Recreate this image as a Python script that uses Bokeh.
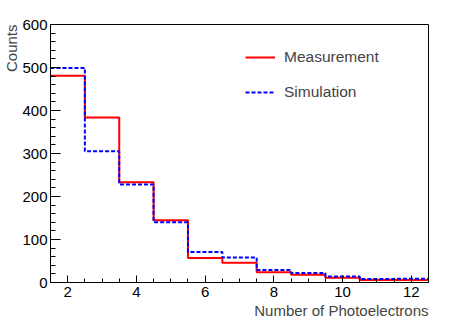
from bokeh.plotting import figure
from bokeh.models import (SingleIntervalTicker, Range1d, Legend, LegendItem, Title)
from bokeh.embed import file_html
from bokeh.resources import INLINE

# Data: number of photoelectrons (bin centres) and counts
n_pe = [2, 3, 4, 5, 6, 7, 8, 9, 10, 11, 12]
measurement = [481, 384, 233, 145, 57, 46, 24, 18, 11, 6, 6]
simulation = [499, 305, 228, 140, 71, 58, 29, 22, 14, 8, 9]

x_ticks_major = 2
y_ticks_major = 100

FONT = "Liberation Sans"

p = figure(width=474, height=322, output_backend="svg", toolbar_location=None,
           x_range=Range1d(1.5, 12.5), y_range=Range1d(0, 600),
           min_border_left=48, min_border_right=46, min_border_top=24,
           min_border_bottom=40, title=None)

p.xgrid.visible = False
p.ygrid.visible = False
p.outline_line_color = "black"
p.outline_line_width = 1
p.background_fill_color = "white"
p.border_fill_color = "white"

# histogram edges derived from bin centres
edges = [c - 0.5 for c in n_pe] + [n_pe[-1] + 0.5]
meas_y = measurement + [measurement[-1]]
sim_y = simulation + [simulation[-1]]

r_meas = p.step(edges, meas_y, mode="after", line_color="#ff0000", line_width=2)
r_sim = p.step(edges, sim_y, mode="after", line_color="#0000ff", line_width=2,
               line_dash="4 2")

# axes styling (ROOT-like ticks inside the frame)
p.xaxis.ticker = SingleIntervalTicker(interval=x_ticks_major, num_minor_ticks=4)
p.yaxis.ticker = SingleIntervalTicker(interval=y_ticks_major, num_minor_ticks=5)
for ax in (p.xaxis[0], p.yaxis[0]):
    ax.major_tick_out = 0
    ax.minor_tick_out = 0
    ax.axis_line_color = "black"
    ax.major_tick_line_color = "black"
    ax.minor_tick_line_color = "black"
    ax.major_label_text_font = FONT
    ax.major_label_text_font_size = "15px"
    ax.major_label_text_color = "black"
p.xaxis.major_tick_in = 7
p.xaxis.minor_tick_in = 4
p.yaxis.major_tick_in = 10
p.yaxis.minor_tick_in = 5
p.xaxis.major_label_standoff = 4
p.yaxis.major_label_standoff = 3

xt = Title(text="Number of Photoelectrons", align="right", text_font=FONT,
           text_font_size="15px", text_font_style="normal", standoff=0)
p.add_layout(xt, "below")
yt = Title(text="Counts", align="right", text_font=FONT,
           text_font_size="15px", text_font_style="normal", standoff=0)
p.add_layout(yt, "left")

legend = Legend(items=[LegendItem(label="Measurement", renderers=[r_meas]),
                       LegendItem(label="Simulation", renderers=[r_sim])],
                location=(195, 180), border_line_color=None,
                background_fill_alpha=0, padding=0, margin=0, spacing=15,
                glyph_width=30, label_standoff=9, label_text_font=FONT,
                label_text_font_size="15.5px")
p.add_layout(legend, "center")

open("out.html", "w").write(file_html(p, INLINE))
